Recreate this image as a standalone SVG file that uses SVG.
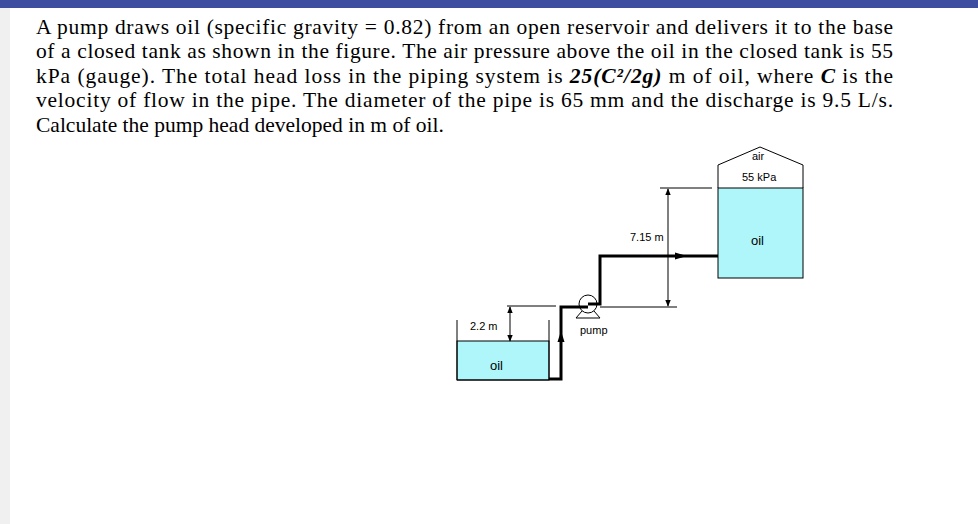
<svg xmlns="http://www.w3.org/2000/svg" width="978" height="524" viewBox="0 0 978 524">
<defs>
<marker id="ah" viewBox="0 0 10 10" refX="9" refY="5" markerWidth="7" markerHeight="7" orient="auto-start-reverse" markerUnits="userSpaceOnUse"><path d="M0,1 L10,5 L0,9 z" fill="#000"/></marker>
</defs>
<style>
.q{font-family:"Liberation Serif",serif;font-size:21.5px;fill:#000}
.l{font-family:"Liberation Sans",Arial,sans-serif;font-size:11px;fill:#000}
.o{font-family:"Liberation Sans",Arial,sans-serif;font-size:13px;fill:#000}
.d{stroke:#000;stroke-width:1;fill:none}
.p{stroke:#000;stroke-width:3;fill:none}
.w{fill:#aef6fa;stroke:#000;stroke-width:1}
</style>
<rect width="978" height="524" fill="#fff"/>
<rect x="0" y="0" width="978" height="8" fill="#3d4da0"/>
<rect x="0" y="8" width="10" height="516" fill="#f0f0f0"/>
<text class="q" x="36" y="34" textLength="857" lengthAdjust="spacing">A pump draws oil (specific gravity = 0.82) from an open reservoir and delivers it to the base</text>
<text class="q" x="36" y="58" textLength="857" lengthAdjust="spacing">of a closed tank as shown in the figure. The air pressure above the oil in the closed tank is 55</text>
<text class="q" x="36" y="83" textLength="857" lengthAdjust="spacing">kPa (gauge). The total head loss in the piping system is <tspan font-weight="bold" font-style="italic">25(C²/2g)</tspan> m of oil, where <tspan font-weight="bold" font-style="italic">C</tspan> is the</text>
<text class="q" x="36" y="107" textLength="857" lengthAdjust="spacing">velocity of flow in the pipe. The diameter of the pipe is 65 mm and the discharge is 9.5 L/s.</text>
<text class="q" x="36" y="132">Calculate the pump head developed in m of oil.</text>
<g id="reservoir">
<rect class="w" x="457" y="341" width="92" height="39"/>
<path class="d" d="M457,320 V380 H549 V320"/>
<text class="o" x="490" y="370">oil</text>
</g>
<g id="tank">
<rect class="w" x="718" y="188" width="85" height="90"/>
<path class="d" d="M718,188 V165 L760,147 L803,165 V188"/>
<text class="l" x="752" y="160" font-size="10">air</text>
<text class="l" x="742" y="181">55 kPa</text>
<text class="o" x="751" y="245">oil</text>
</g>
<g id="pump">
<circle cx="588" cy="304" r="9" fill="#fff" stroke="#000" stroke-width="1"/>
<path class="d" d="M582,311 L576,318 H600 L594,311"/>
<text class="l" x="580" y="334">pump</text>
</g>
<g id="connectors">
<path class="p" d="M549,379 H561 V307 H588"/>
<path class="p" d="M588,304 H600 V256 H718"/>
<path d="M557.5,342 L561,331 L564.5,342 z" fill="#000"/>
<path d="M675,252.5 L687,256 L675,259.5 z" fill="#000"/>
<path class="d" d="M507,306 H556"/>
<path class="d" d="M510,307 V341" marker-start="url(#ah)" marker-end="url(#ah)"/>
<text class="l" x="470" y="330">2.2 m</text>
<path class="d" d="M600,307 H677"/>
<path class="d" d="M660,188 H712"/>
<path class="d" d="M668,189 V306" marker-start="url(#ah)" marker-end="url(#ah)"/>
<text class="l" x="630" y="241">7.15 m</text>
</g>
</svg>
